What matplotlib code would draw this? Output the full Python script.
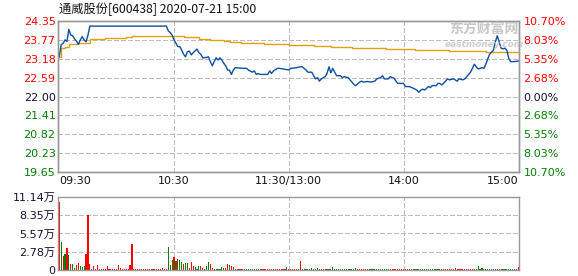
import matplotlib
matplotlib.use('Agg')
import matplotlib.pyplot as plt

plt.rcParams['font.family'] = ['DejaVu Sans', 'Noto Sans CJK SC']

# Title
TITLE = '通威股份[600438] 2020-07-21 15:00'

# Price axis (previous close 22.00)
PRICE_TICKS = [24.35, 23.77, 23.18, 22.59, 22.00, 21.41, 20.82, 20.23, 19.65]
PCT_LABELS = ['10.70%', '8.03%', '5.35%', '2.68%', '0.00%',
              '2.68%', '5.35%', '8.03%', '10.70%']
TIME_LABELS = ['09:30', '10:30', '11:30/13:00', '14:00', '15:00']
TIME_POS = [0, 60, 120, 180, 240]

# Minute price line (minute index, price)
price_min = [0, 1, 2, 3, 4, 5, 6, 7, 8, 9, 10, 11, 12, 13, 14, 15, 16,
             56, 57, 58, 59, 60, 62, 63, 64, 65, 66, 67, 68, 69, 70, 72, 73,
             74, 75, 76, 78, 79, 80, 81, 82, 83, 84, 85, 86, 87, 88, 89, 90,
             91, 92, 96, 98, 99, 101, 102, 103, 104, 105, 109, 110, 111, 112,
             114, 115, 117, 120, 121, 124, 126, 127, 128, 129, 130, 132, 133,
             134, 135, 136, 137, 139, 140, 141, 142, 143, 144, 145, 147, 148,
             149, 151, 152, 153, 154, 155, 157, 158, 159, 161, 163, 165, 166,
             168, 169, 170, 172, 173, 175, 176, 177, 180, 181, 183, 185, 187,
             188, 189, 190, 191, 193, 194, 195, 197, 198, 199, 200, 202, 203,
             204, 206, 207, 208, 209, 211, 212, 213, 215, 216, 217, 218, 219,
             221, 222, 223, 224, 225, 227, 228, 229, 230, 231, 232, 233, 234,
             235, 236, 238, 240]
price_val = [23.25, 23.62, 23.66, 23.77, 23.72, 24.10, 23.92, 23.90, 23.80,
             23.73, 23.63, 23.77, 23.87, 23.77, 23.71, 23.92, 24.20,
             24.20, 24.05, 24.00, 23.92, 23.77, 23.56, 23.56, 23.45, 23.32,
             23.24, 23.40, 23.42, 23.30, 23.37, 23.48, 23.37,
             23.32, 23.21, 23.21, 23.24, 23.09, 22.96, 23.09, 23.21, 23.14,
             23.21, 23.14, 23.04, 22.96, 22.83, 22.82, 22.69,
             22.83, 22.90, 22.88, 22.88, 22.82, 22.76, 22.80, 22.69, 22.72,
             22.69, 22.69, 22.80, 22.72, 22.80,
             22.88, 22.88, 22.86, 22.83, 22.88, 22.90, 22.93, 22.93, 22.88,
             22.83, 22.76, 22.76, 22.65,
             22.55, 22.59, 22.48, 22.55, 22.62, 22.72, 22.93, 22.74, 22.88,
             22.76, 22.65, 22.65, 22.59,
             22.62, 22.59, 22.52, 22.45, 22.38, 22.34, 22.45, 22.48, 22.45,
             22.47, 22.45, 22.48, 22.55,
             22.59, 22.65, 22.55, 22.55, 22.62, 22.57, 22.48, 22.41, 22.41,
             22.31, 22.31, 22.26, 22.20,
             22.13, 22.20, 22.23, 22.20, 22.31, 22.28, 22.34, 22.34, 22.41,
             22.41, 22.36, 22.48, 22.55,
             22.52, 22.55, 22.52, 22.48, 22.55, 22.52, 22.55, 22.62, 22.76,
             22.88, 23.01, 22.93, 22.86,
             22.90, 22.88, 23.01, 23.17, 23.32, 23.45, 23.71, 23.90, 23.71,
             23.51, 23.49, 23.51, 23.45,
             23.19, 23.09, 23.09, 23.11]

# Average price line (minute index, price)
avg_min = [0, 1, 3, 5, 10, 15, 16, 24, 35, 38, 57, 58, 65, 73, 79, 86, 89,
           95, 107, 120, 133, 142, 153, 171, 186, 204, 223, 240]
avg_val = [23.25, 23.51, 23.56, 23.63, 23.66, 23.66, 23.79, 23.82, 23.85,
           23.89, 23.89, 23.90, 23.85, 23.80, 23.77, 23.73, 23.69,
           23.66, 23.63, 23.61, 23.58, 23.54, 23.51, 23.47, 23.45, 23.43,
           23.40, 23.39]

# Volume per minute, in 万 (241 minutes)
volume = [
    10.4, 4.3, 2.1, 2.5, 3.4, 2.3, 0.9, 0.9, 0.35, 0.75, 1.06, 0.65, 0.5, 0.65, 2.4, 8.35, 0.9, 0.15, 0.65, 0.15,
    0.75, 0.15, 0.15, 0.15, 0.15, 0.65, 0.15, 0.15, 0.15, 0.15, 0.15, 0.75, 0.4, 0.15, 0.15, 0.15, 0.15, 0.75, 3.95, 0.15,
    0.15, 0.15, 0.15, 0.15, 0.15, 0.15, 0.15, 0.15, 0.15, 0.15, 0.15, 0.15, 0.15, 0.15, 0.3, 0.15, 0.15, 3.45, 0.75, 1.5,
    2.0, 1.35, 1.65, 1.5, 1.25, 0.9, 1.05, 1.05, 0.3, 1.25, 0.65, 0.5, 0.15, 0.65, 0.65, 0.3, 0.15, 0.65, 1.25, 0.9,
    0.3, 0.15, 0.15, 0.15, 0.15, 0.5, 0.4, 0.3, 0.9, 0.75, 0.65, 0.5, 0.15, 0.15, 0.15, 0.15, 0.15, 0.15, 0.15, 0.15,
    0.15, 0.15, 0.15, 0.15, 0.15, 0.15, 0.15, 0.15, 0.15, 0.15, 0.15, 0.15, 0.15, 0.15, 0.15, 0.15, 0.15, 0.15, 0.15, 0.5,
    0.15, 0.15, 0.15, 0.15, 0.15, 0.15, 1.4, 0.15, 0.15, 0.15, 0.15, 0.15, 0.35, 0.15, 0.15, 0.35, 0.15, 0.15, 0.15, 0.15,
    0.15, 0.15, 0.15, 0.5, 0.15, 0.15, 0.15, 0.15, 0.15, 0.15, 0.15, 0.15, 0.15, 0.15, 0.15, 0.35, 0.15, 0.15, 0.15, 0.15,
    0.15, 0.15, 0.15, 0.15, 0.15, 0.15, 0.15, 0.15, 0.15, 0.15, 0.15, 0.15, 0.15, 0.15, 0.15, 0.15, 0.15, 0.15, 0.15, 0.15,
    0.15, 0.15, 0.15, 0.15, 0.15, 0.15, 0.15, 0.15, 0.15, 0.15, 0.15, 0.15, 0.15, 0.15, 0.15, 0.15, 0.15, 0.15, 0.15, 0.15,
    0.15, 0.15, 0.15, 0.15, 0.15, 0.15, 0.15, 0.35, 0.15, 0.15, 0.15, 0.15, 0.15, 0.15, 0.15, 0.15, 0.15, 0.15, 0.15, 0.65,
    0.15, 0.35, 0.15, 0.15, 0.15, 0.15, 0.15, 0.15, 0.15, 0.15, 0.15, 0.15, 0.15, 0.15, 0.15, 0.15, 0.15, 0.15, 0.15, 0.15,
    0.5,
]
# r = up minute, g = down minute
vol_dir = (
    'rgrgrgrggrrgggrrrrrr'
    'rrrrrrrrrrrrrrrrrrrr'
    'rrrrrrrrrrrrrrrrrggg'
    'rgrggrggrrrgggrrgggr'
    'rggggggrrgrrggrrgrgg'
    'ggggggrrrrrrrrrrrrrg'
    'rrrrrrrgggggggggrrrr'
    'rgggggggggggggggrrrr'
    'rrgggggggggggrrrrrrr'
    'rrrrgggggggggggggggr'
    'rrrrrrrrrrrrrrrrrrgg'
    'gggggggggrgrggggggrr'
    'r'
)
VOL_TICKS = [0, 2.78, 5.57, 8.35, 11.14]
VOL_LABELS = ['0', '2.78万', '5.57万', '8.35万', '11.14万']

RED = '#ff0000'
GREEN = '#008000'
GRID = '#bcbcbc'
SPINE = '#999999'
grid_kw = dict(color=GRID, linestyle='--', dashes=(3, 2), linewidth=1.0,
               antialiased=False, zorder=1)

fig = plt.figure(figsize=(5.78, 2.76), dpi=100)
ax = fig.add_axes([0.1009, 0.3779, 0.7975, 0.5449])
axv = fig.add_axes([0.1009, 0.0207, 0.7975, 0.2666])

# price panel
ax.set_xlim(-0.5, 240.5)
ax.set_ylim(19.65, 24.35)
for y in PRICE_TICKS[1:-1]:
    ax.plot([-0.5, 240.5], [y, y], **grid_kw)
for x in TIME_POS[1:-1]:
    ax.plot([x, x], [19.65, 24.35], **grid_kw)
ax.plot(avg_min, avg_val, color='#e0a010', linewidth=1.0, drawstyle='steps-post', zorder=2)
ax.plot(price_min, price_val, color='#0d4fa3', linewidth=1.0, zorder=3)
ax.set_yticks(PRICE_TICKS)
ax.set_yticklabels(['%.2f' % v for v in PRICE_TICKS])
for lbl, v in zip(ax.get_yticklabels(), PRICE_TICKS):
    lbl.set_color(RED if v > 22.0 else (GREEN if v < 22.0 else '#111133'))
ax.set_xticks(TIME_POS)
ax.set_xticklabels(TIME_LABELS)
xl = ax.get_xticklabels()
xl[0].set_ha('left')
xl[-1].set_ha('right')
ax.tick_params(axis='both', length=0, labelsize=8, pad=2)
ax.tick_params(axis='x', pad=3, labelcolor='#111111')

ax2 = ax.twinx()
ax2.set_ylim(19.65, 24.35)
ax2.set_yticks(PRICE_TICKS)
ax2.set_yticklabels(PCT_LABELS)
for lbl, v in zip(ax2.get_yticklabels(), PRICE_TICKS):
    lbl.set_color(RED if v > 22.0 else (GREEN if v < 22.0 else '#111133'))
ax2.tick_params(axis='y', length=0, labelsize=8, pad=3)

for a in (ax, ax2, axv):
    for s in a.spines.values():
        s.set_color(SPINE)
        s.set_linewidth(1.0)

# volume panel
axv.set_xlim(-0.5, 240.5)
axv.set_ylim(0, 11.14)
for y in VOL_TICKS[1:-1]:
    axv.plot([-0.5, 240.5], [y, y], **grid_kw)
for x in TIME_POS[1:-1]:
    axv.plot([x, x], [0, 11.14], **grid_kw)
bar_cols = [RED if c == 'r' else GREEN for c in vol_dir]
axv.bar(range(len(volume)), volume, width=0.6, color=bar_cols, linewidth=0, zorder=2)
axv.set_yticks(VOL_TICKS)
axv.set_yticklabels(VOL_LABELS)
axv.set_xticks([])
axv.tick_params(axis='y', length=0, labelsize=8, pad=2, labelcolor='#111133')

# title and watermark
fig.text(0.102, 0.968, TITLE, fontsize=8.8, va='center', ha='left',
         family=['Noto Sans CJK SC', 'DejaVu Sans'], color='#111111')
fig.text(0.837, 0.895, '东方财富网', fontsize=10, va='center', ha='center',
         family=['Noto Sans CJK SC'], weight='bold', color='#b8b8b8', alpha=0.8)
fig.text(0.837, 0.84, 'eastmoney.com', fontsize=6.5, va='center', ha='center',
         style='italic', weight='bold', color='#c0c0c0', alpha=0.8)

fig.savefig('out.png', dpi=100)
